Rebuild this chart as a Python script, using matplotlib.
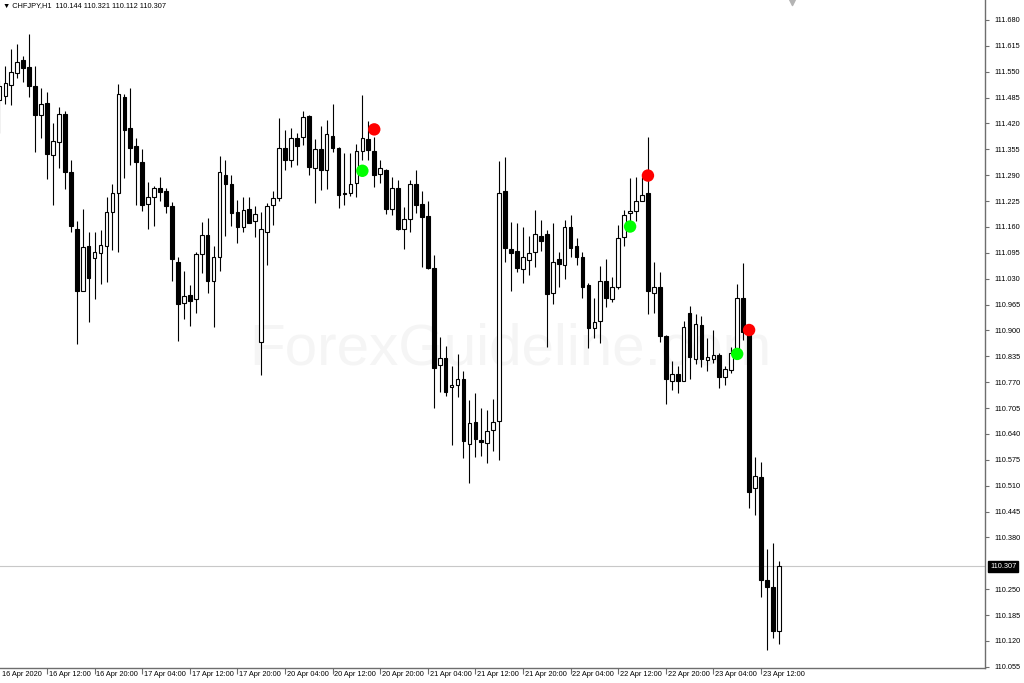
import matplotlib
matplotlib.use("Agg")
import matplotlib.pyplot as plt
import matplotlib.transforms as mtransforms
import numpy as np

# CHFJPY H1 candles, 16 Apr 04:00 .. 23 Apr 15:00
opens = [111.479, 111.489, 111.517, 111.546, 111.580, 111.561, 111.515, 111.440, 111.471, 111.341,
         111.373, 111.444, 111.297, 111.155, 111.000, 111.112, 111.083, 111.094, 111.112, 111.197,
         111.246, 111.486, 111.408, 111.362, 111.323, 111.217, 111.236, 111.259, 111.250, 111.213,
         111.073, 110.968, 110.989, 110.978, 111.092, 111.140, 111.024, 111.084, 111.291, 111.267,
         111.198, 111.161, 111.205, 111.175, 110.870, 111.148, 111.214, 111.232, 111.358, 111.328,
         111.383, 111.385, 111.439, 111.309, 111.356, 111.303, 111.389, 111.358, 111.246, 111.245,
         111.270, 111.351, 111.380, 111.351, 111.293, 111.303, 111.204, 111.257, 111.154, 111.180,
         111.267, 111.217, 111.188, 111.056, 110.812, 110.830, 110.757, 110.763, 110.777, 110.615,
         110.669, 110.624, 110.618, 110.649, 110.673, 111.250, 111.104, 111.100, 111.054, 111.077,
         111.096, 111.138, 111.142, 110.995, 111.080, 111.065, 111.159, 111.111, 111.085, 111.014,
         110.907, 110.924, 111.024, 110.979, 111.010, 111.134, 111.194, 111.201, 111.225, 111.245,
         110.995, 111.009, 110.886, 110.773, 110.791, 110.774, 110.943, 110.828, 110.914, 110.826,
         110.828, 110.838, 110.782, 110.801, 110.847, 110.981, 110.897, 110.504, 110.533, 110.273,
         110.256, 110.144]
highs = [111.529, 111.563, 111.606, 111.620, 111.590, 111.644, 111.565, 111.508, 111.498, 111.422,
         111.461, 111.452, 111.327, 111.175, 111.205, 111.146, 111.147, 111.152, 111.235, 111.267,
         111.519, 111.494, 111.508, 111.383, 111.356, 111.272, 111.263, 111.286, 111.259, 111.222,
         111.085, 111.048, 111.013, 111.096, 111.172, 111.182, 111.111, 111.338, 111.328, 111.291,
         111.228, 111.236, 111.236, 111.213, 111.197, 111.220, 111.249, 111.433, 111.404, 111.408,
         111.395, 111.452, 111.441, 111.380, 111.414, 111.429, 111.469, 111.360, 111.345, 111.345,
         111.368, 111.492, 111.425, 111.387, 111.328, 111.305, 111.286, 111.278, 111.210, 111.278,
         111.303, 111.251, 111.226, 111.090, 110.884, 110.861, 110.811, 110.841, 110.797, 110.725,
         110.742, 110.705, 110.700, 110.727, 111.326, 111.335, 111.173, 111.171, 111.161, 111.137,
         111.203, 111.178, 111.152, 111.169, 111.098, 111.178, 111.190, 111.132, 111.098, 111.019,
         110.982, 111.062, 111.079, 111.035, 111.165, 111.203, 111.282, 111.286, 111.286, 111.387,
         111.072, 111.046, 110.888, 110.822, 110.811, 110.924, 110.962, 110.941, 110.936, 110.880,
         110.900, 110.844, 110.811, 110.859, 111.016, 111.069, 110.899, 110.582, 110.570, 110.350,
         110.365, 110.321]
lows = [111.396, 111.468, 111.466, 111.534, 111.525, 111.487, 111.347, 111.383, 111.280, 111.215,
        111.309, 111.255, 111.147, 110.866, 110.998, 110.922, 110.978, 111.016, 111.021, 111.102,
        111.098, 111.284, 111.316, 111.215, 111.201, 111.155, 111.163, 111.225, 111.194, 111.023,
        110.874, 110.928, 110.910, 110.943, 111.045, 110.993, 110.908, 111.050, 111.138, 111.163,
        111.119, 111.148, 111.169, 111.134, 110.788, 111.065, 111.165, 111.224, 111.303, 111.311,
        111.316, 111.366, 111.291, 111.220, 111.253, 111.255, 111.347, 111.207, 111.215, 111.238,
        111.236, 111.328, 111.327, 111.261, 111.270, 111.193, 111.190, 111.152, 111.104, 111.148,
        111.194, 111.060, 111.054, 110.705, 110.746, 110.735, 110.612, 110.734, 110.579, 110.516,
        110.583, 110.585, 110.568, 110.596, 110.575, 111.073, 110.998, 111.046, 111.019, 111.038,
        111.060, 111.100, 110.859, 110.967, 111.010, 111.029, 111.085, 111.065, 110.981, 110.855,
        110.880, 110.868, 110.960, 110.972, 111.003, 111.111, 111.173, 111.175, 111.224, 110.941,
        110.944, 110.872, 110.715, 110.751, 110.742, 110.772, 110.777, 110.815, 110.809, 110.797,
        110.818, 110.755, 110.763, 110.793, 110.841, 110.876, 110.453, 110.437, 110.231, 110.096,
        110.127, 110.112]
closes = [111.514, 111.521, 111.548, 111.575, 111.560, 111.515, 111.440, 111.468, 111.343, 111.377,
          111.443, 111.297, 111.163, 111.000, 111.109, 111.031, 111.096, 111.115, 111.197, 111.246,
          111.493, 111.404, 111.359, 111.322, 111.215, 111.235, 111.257, 111.247, 111.213, 111.080,
          110.967, 110.987, 110.975, 111.092, 111.140, 111.023, 111.084, 111.299, 111.268, 111.194,
          111.159, 111.203, 111.171, 111.192, 111.154, 111.213, 111.232, 111.358, 111.327, 111.384,
          111.363, 111.435, 111.311, 111.356, 111.303, 111.393, 111.358, 111.239, 111.242, 111.267,
          111.351, 111.384, 111.353, 111.291, 111.307, 111.204, 111.257, 111.154, 111.180, 111.267,
          111.215, 111.186, 111.056, 110.805, 110.830, 110.746, 110.763, 110.777, 110.621, 110.668,
          110.627, 110.619, 110.648, 110.669, 111.246, 111.107, 111.094, 111.056, 111.085, 111.094,
          111.142, 111.125, 110.991, 111.073, 111.066, 111.161, 111.107, 111.085, 111.010, 110.906,
          110.921, 111.024, 110.981, 111.010, 111.132, 111.190, 111.200, 111.226, 111.240, 110.998,
          111.010, 110.886, 110.777, 110.791, 110.774, 110.908, 110.832, 110.916, 110.828, 110.832,
          110.838, 110.784, 110.803, 110.844, 110.982, 110.897, 110.495, 110.535, 110.272, 110.256,
          110.146, 110.307]

# time axis labels (bar index -> text)
tick_idx = [8, 16, 24, 32, 40, 48, 56, 64, 72, 80, 88, 96, 104, 112, 120, 128]
tick_text = ["16 Apr 12:00", "16 Apr 20:00", "17 Apr 04:00", "17 Apr 12:00", "17 Apr 20:00",
             "20 Apr 04:00", "20 Apr 12:00", "20 Apr 20:00", "21 Apr 04:00", "21 Apr 12:00",
             "21 Apr 20:00", "22 Apr 04:00", "22 Apr 12:00", "22 Apr 20:00", "23 Apr 04:00",
             "23 Apr 12:00"]
first_label = "16 Apr 2020"

price_ticks = [111.680, 111.615, 111.550, 111.485, 111.420, 111.355, 111.290, 111.225,
               111.160, 111.095, 111.030, 110.965, 110.900, 110.835, 110.770, 110.705,
               110.640, 110.575, 110.510, 110.445, 110.380, 110.250, 110.185, 110.120, 110.055]

# signal dots
sig_idx = [61, 63, 106, 109, 124, 126]
sig_price = [111.301, 111.405, 111.161, 111.289, 110.841, 110.901]
sig_color = ["#00FF00", "#FF0000", "#00FF00", "#FF0000", "#00FF00", "#FF0000"]

fs = 5.3

fig = plt.figure(figsize=(10.24, 6.83), dpi=100)
ax = fig.add_axes([0, 15 / 683, 985 / 1024, 668 / 683])

x = np.arange(len(opens))
o = np.array(opens)
h = np.array(highs)
l = np.array(lows)
c = np.array(closes)
up = c >= o
body = np.maximum(np.abs(c - o), 0.0012)

ax.text(85.8, 110.851, "ForexGuideline.com", fontsize=42, family="Liberation Sans",
        color="#F5F5F5", ha="center", va="center", zorder=0)

ax.axhline(closes[-1], color="#C8C8C8", lw=0.8, zorder=1)

ax.vlines(x, l, h, color="black", lw=0.8, zorder=2)
ax.bar(x[up], body[up], bottom=o[up], width=0.62, color="white",
       edgecolor="black", linewidth=0.8, zorder=3)
ax.bar(x[~up], body[~up], bottom=c[~up], width=0.62, color="black",
       edgecolor="black", linewidth=0.8, zorder=3)

ax.scatter(sig_idx, sig_price, s=80, c=sig_color, zorder=4, edgecolors="none")

ax.set_xlim(0.1, 165.65)
ax.set_ylim(110.052, 111.730)

for s in ["top", "left"]:
    ax.spines[s].set_visible(False)
for s in ["right", "bottom"]:
    ax.spines[s].set_color("#6E6E6E")
    ax.spines[s].set_linewidth(1.0)

ax.yaxis.tick_right()
ax.set_yticks(price_ticks)
ax.set_yticklabels(["%.3f" % p for p in price_ticks], family="Liberation Sans", fontsize=fs)
ax.tick_params(axis="y", length=3, width=0.8, color="#6E6E6E", pad=4)

ax.set_xticks(tick_idx)
ax.set_xticklabels([])
ax.tick_params(axis="x", length=4, width=0.8, color="#6E6E6E")

xt = ax.get_xaxis_transform()
for i, t in zip(tick_idx, tick_text):
    ax.text(i + 0.3, -0.005, t, transform=xt, ha="left", va="top",
            fontsize=fs, family="Liberation Sans", clip_on=False)
ax.text(0.4, -0.005, first_label, transform=xt, ha="left", va="top",
        fontsize=fs, family="Liberation Sans", clip_on=False)

# current price box
yt = mtransforms.blended_transform_factory(ax.transAxes, ax.transData)
ax.text(1.0 + 5 / 985, closes[-1], "%.3f" % closes[-1], transform=yt, ha="left", va="center",
        fontsize=fs, family="Liberation Sans", color="white", clip_on=False, zorder=6,
        bbox=dict(facecolor="black", edgecolor="black", pad=1.3))

# chart shift marker
ax.scatter([133.2], [111.726], marker="v", s=20, color="#B4B4B4", clip_on=False, zorder=5)

header = "\u25BC CHFJPY,H1  %.3f %.3f %.3f %.3f" % (opens[-1], highs[-1], lows[-1], closes[-1])
fig.text(3 / 1024, 1 - 6 / 683, header, fontsize=fs, va="center",
         family=["Liberation Sans", "DejaVu Sans"])

fig.savefig("out.png", dpi=100, facecolor="white")
